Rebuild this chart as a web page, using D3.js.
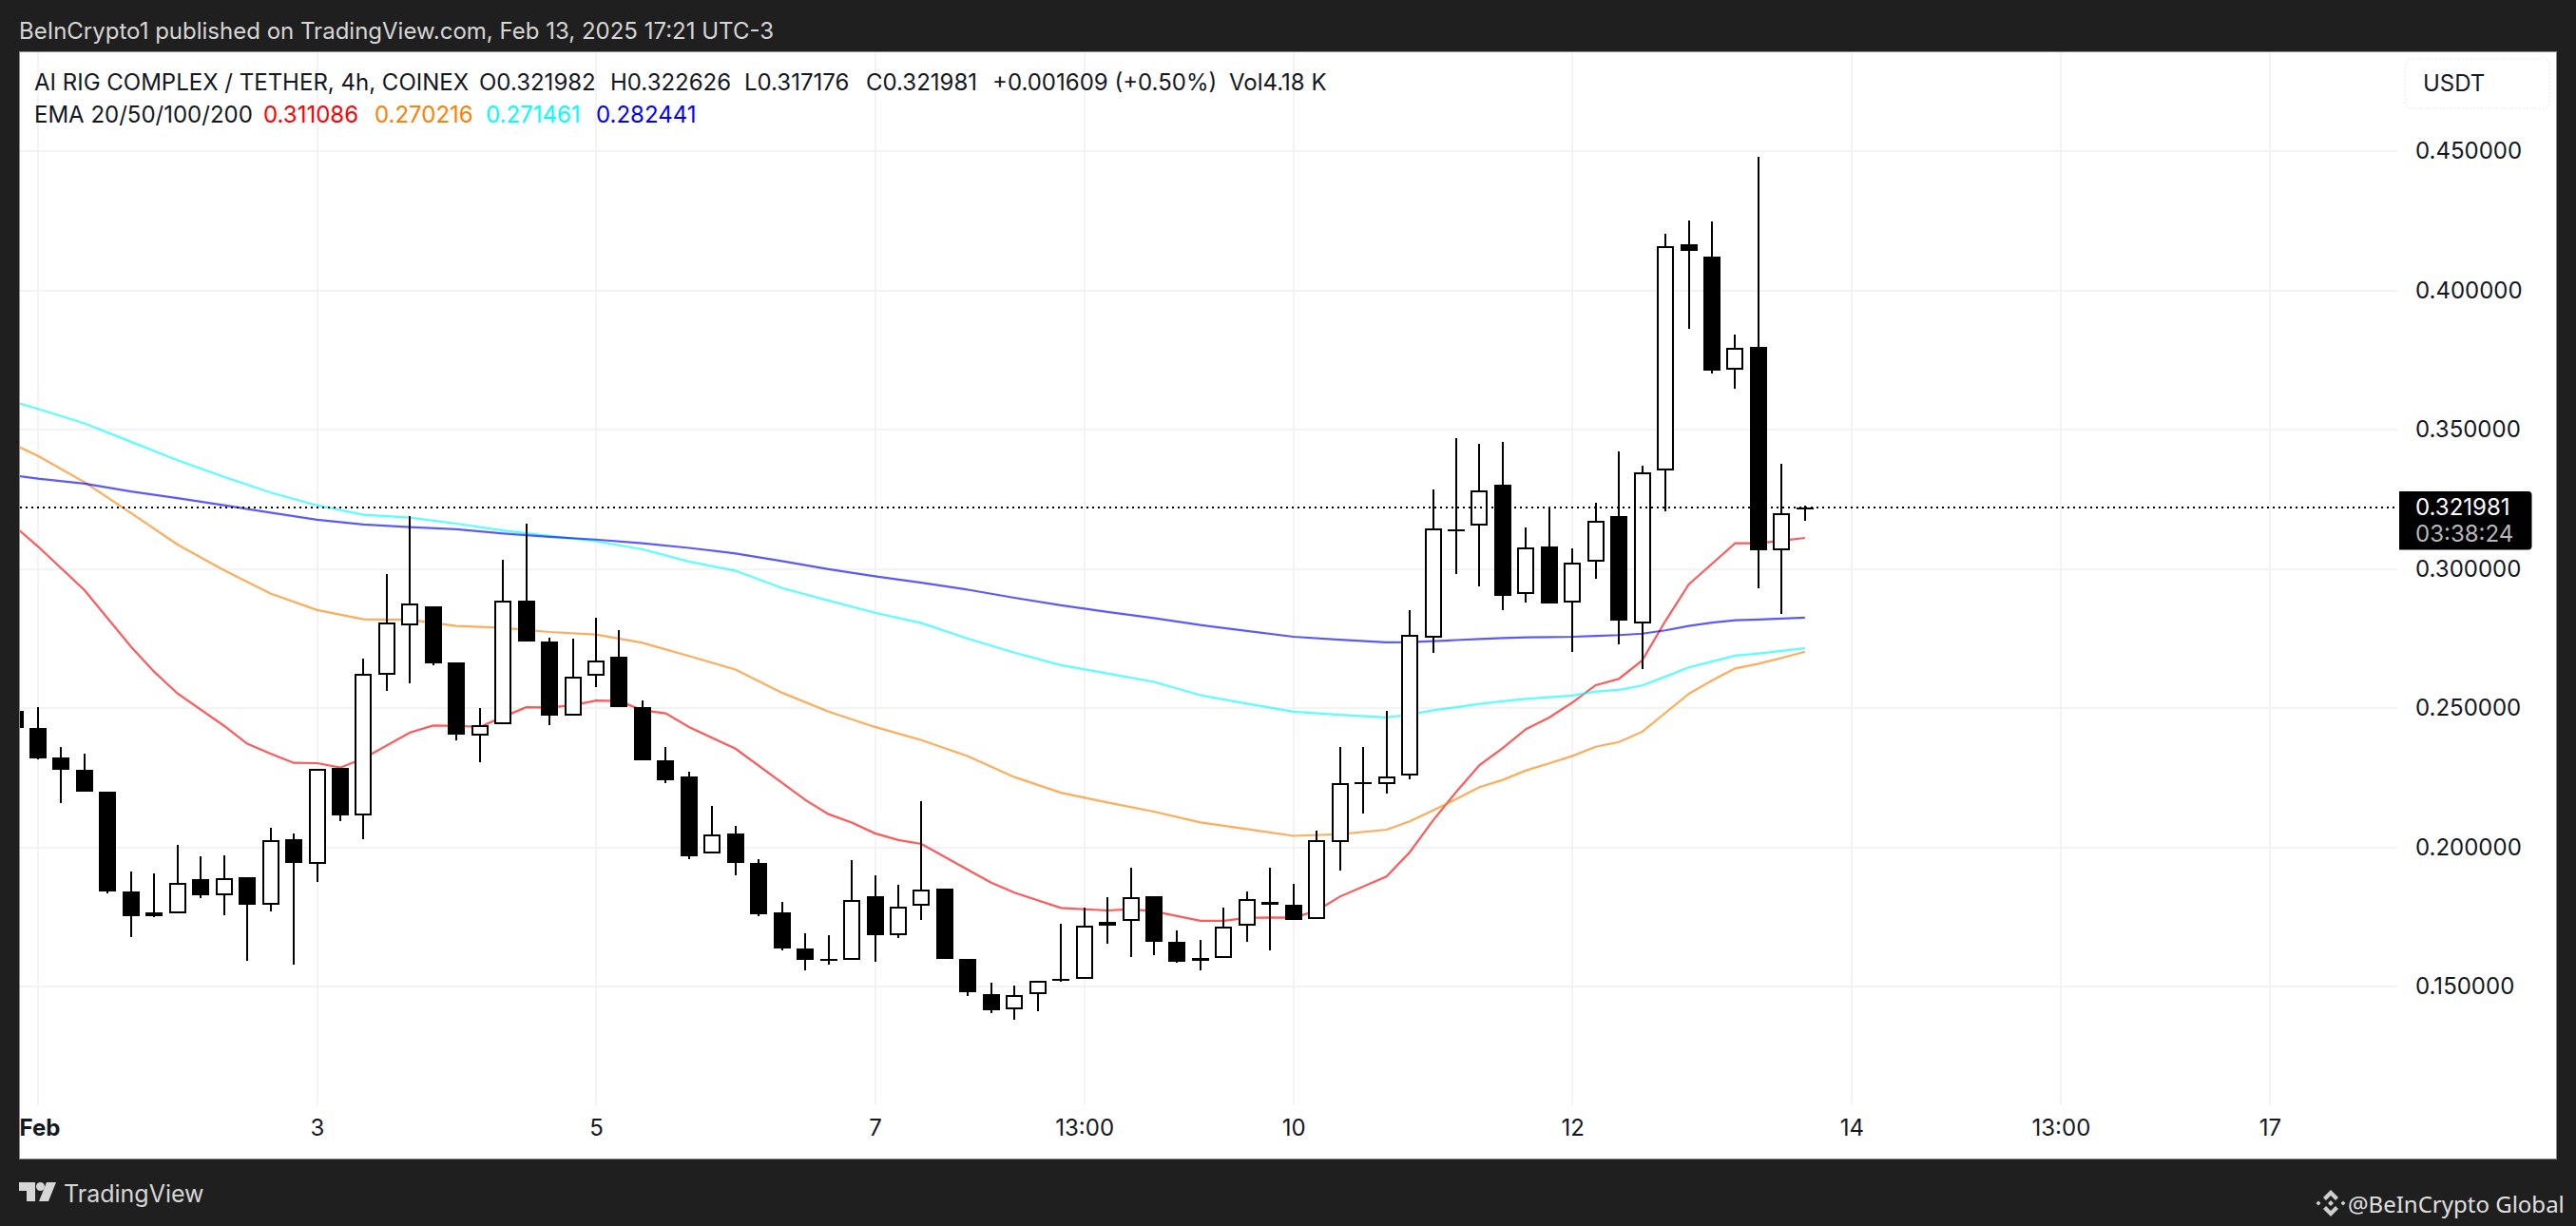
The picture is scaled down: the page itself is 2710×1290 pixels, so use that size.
<!DOCTYPE html>
<html>
  <head>
  <meta charset="UTF-8">
  <title>AI RIG COMPLEX / TETHER</title>
  <script src="https://cdn.jsdelivr.net/npm/d3@7"></script>
  <style>
    html, body { margin: 0; padding: 0; background: #1f1f1f; }
    svg { display: block; }
    text { font-family: Inter, Roboto, sans-serif; }
    .axis text { font-size: 24px; fill: #131722; font-family: Inter, Roboto, sans-serif; }
    .axis path, .axis line { display: none; }
  </style>
  </head>
  <body>
    <script>

      // Price ticks and time ticks (bar number counted from "Feb")

      const priceTicks = [0.45, 0.40, 0.35, 0.30, 0.25, 0.20, 0.15];
      const timeTickBars = [0, 12, 24, 36, 45, 54, 66, 78, 87, 96];
      const timeTickLabels = ["Feb", "3", "5", "7", "13:00", "10", "12", "14", "13:00", "17"];

      // Candles, first one is bar -1 (cut by the left edge)

      const opens = [.2490,.2428,.2321,.2277,.2200,.1843,.1766,.1763,.1884,.1827,.1891,.1794,.2028,.1939,.2285,.2114,.2618,.2796,.2866,.2664,
        .2400,.2442,.2885,.2739,.2472,.2616,.2684,.2503,.2311,.2255,.1977,.2049,.1945,.1765,.1636,.1600,.1596,.1823,.1686,.1791,
        .1850,.1600,.1471,.1417,.1473,.1529,.1526,.1720,.1736,.1823,.1662,.1591,.1604,.1718,.1805,.1795,.1741,.2018,.2234,.2227,
        .2258,.2752,.3142,.3154,.3301,.2910,.3079,.2878,.3026,.3188,.2804,.3353,.4165,.4120,.3714,.3796,.3067,.321982];
      const highs = [.2490,.2502,.2360,.2336,.2200,.1912,.1906,.2009,.1968,.1971,.1891,.2069,.2048,.2283,.2285,.2678,.2981,.3188,.2866,.2664,
        .2500,.3032,.3163,.2753,.2750,.2824,.2780,.2526,.2360,.2273,.2150,.2076,.1956,.1805,.1690,.1686,.1954,.1899,.1864,.2167,
        .1850,.1600,.1512,.1502,.1521,.1724,.1782,.1820,.1928,.1823,.1700,.1666,.1782,.1843,.1928,.1867,.2060,.2360,.2360,.2489,
        .2851,.3285,.3469,.3448,.3456,.3147,.3223,.3072,.3236,.3422,.3370,.4202,.4251,.4246,.3840,.4480,.3376,.322626];
      const lows = [.2428,.2314,.2159,.2198,.1833,.1676,.1749,.1763,.1818,.1757,.1593,.1768,.1580,.1877,.2095,.2030,.2563,.2590,.2654,.2385,
        .2307,.2442,.2740,.2440,.2472,.2576,.2502,.2312,.2229,.1958,.1977,.1901,.1753,.1628,.1558,.1577,.1596,.1590,.1675,.1740,
        .1600,.1467,.1406,.1382,.1411,.1518,.1526,.1655,.1607,.1611,.1586,.1558,.1604,.1662,.1628,.1740,.1741,.1917,.2122,.2194,
        .2244,.2699,.2982,.2938,.2853,.2880,.2877,.2702,.2964,.2730,.2641,.3208,.3863,.3702,.3648,.2931,.2839,.317176];
      const closes = [.2428,.2319,.2279,.2198,.1842,.1754,.1754,.1873,.1826,.1890,.1792,.2027,.1945,.2283,.2113,.2624,.2808,.2877,.2661,.2406,
        .2440,.2884,.2740,.2471,.2613,.2672,.2502,.2312,.2239,.1969,.2047,.1945,.1761,.1638,.1594,.1596,.1811,.1685,.1787,.1849,
        .1600,.1478,.1416,.1470,.1521,.1525,.1719,.1732,.1821,.1662,.1590,.1603,.1715,.1815,.1795,.1740,.2027,.2231,.2229,.2255,
        .2764,.3146,.3138,.3283,.2904,.3078,.2877,.3023,.3171,.2815,.3347,.4160,.4143,.3713,.3795,.3068,.3201,.321981];

      // EMA lines, read at these bars

      const emaBars = [-1,0,2,4,6,8,10,12,14,16,18,20,22,24,26,28,30,32,34,36,38,40,42,44,46,48,50,52,54,56,58,
        59,60,61,62,63,64,65,66,67,68,69,70,71,72,73,74,75,76];
      const ema50 = [.3445,.3405,.3311,.3200,.3087,.2995,.2911,.2852,.2819,.2817,.2795,.2788,.2773,.2764,.2734,.2687,.2638,.2555,.2487,.2432,.2385,.2327,.2252,.2196,.2161,.2128,.2089,.2065,.2041,.2047,.2063,
        .2093,.2132,.2173,.2216,.2242,.2276,.2301,.2328,.2361,.2378,.2415,.2483,.2551,.2599,.2642,.2659,.2680,.270216];
      const ema100 = [.3599,.3574,.3522,.3456,.3390,.3330,.3274,.3228,.3194,.3184,.3162,.3138,.3118,.3099,.3070,.3026,.2993,.2931,.2886,.2842,.2805,.2749,.2699,.2654,.2624,.2594,.2546,.2516,.2487,.2476,.2466,
        .2476,.2492,.2503,.2515,.2524,.2533,.2539,.2545,.2559,.2565,.2581,.2613,.2646,.2667,.2688,.2696,.2705,.271461];
      const ema200 = [.3335,.3324,.3306,.3278,.3254,.3228,.3202,.3176,.3159,.3150,.3142,.3127,.3115,.3105,.3092,.3075,.3055,.3028,.2999,.2973,.2950,.2925,.2896,.2869,.2845,.2823,.2798,.2777,.2756,.2745,.2736,
        .2737,.2740,.2744,.2748,.2751,.2754,.2755,.2756,.2759,.2762,.2767,.2779,.2795,.2807,.2815,.2818,.2821,.282441];

      const ema20Bars = [-1,0,2,4,5,6,8,9,10,11,12,13,14,16,17,18,19,20,21,22,23,24,25,26,27,28,30,32,33,34,35,36,37,38,40,41,42,44,46,47,48,50,51,52,53,54,55,56,58,
        59,60,61,62,63,64,65,66,67,68,69,70,71,72,73,74,75,76];
      const ema20 = [.3152,.3080,.2923,.2720,.2630,.2552,.2436,.2372,.2336,.2303,.2302,.2286,.2319,.2412,.2437,.2436,.2432,.2468,.2503,.2502,.2510,.2527,.2525,.2492,.2481,.2432,.2354,.2232,.2170,.2119,.2089,.2050,.2026,.2012,.1919,.1873,.1837,.1782,.1773,.1778,.1770,.1736,.1736,.1746,.1748,.1747,.1772,.1823,.1895,
        .1982,.2096,.2199,.2295,.2356,.2424,.2466,.2520,.2582,.2605,.2671,.2813,.2944,.3018,.3092,.3092,.3101,.311086];

      const lastPrice = 0.321981;
      const countdown = "03:38:24";
      const emaValues = ["0.311086", "0.270216", "0.271461", "0.282441"];
      const emaColors = ["#ff0000", "#ff7f00", "#00ffff", "#0000ff"];

      const width = 2710, height = 1290;
      const panel = {left: 20, right: 2689, top: 54, bottom: 1219};
      const plot = {left: 21, right: 2522, top: 55, bottom: 1163};

      const x = d3.scaleLinear().domain([0, 96]).range([40, 2388]);
      const y = d3.scaleLinear().domain([0.45, 0.15]).range([159, 1038]);

      const svg = d3.select("body").append("svg")
        .attr("width", width)
        .attr("height", height);

      // Top strip

      svg.append("text")
        .attr("x", 20).attr("y", 41)
        .attr("fill", "#d6d6d6")
        .style("font-size", "24px")
        .text("BeInCrypto1 published on TradingView.com, Feb 13, 2025 17:21 UTC-3");

      // White panel

      svg.append("rect")
        .attr("x", panel.left + 0.5).attr("y", panel.top + 0.5)
        .attr("width", panel.right - panel.left)
        .attr("height", panel.bottom - panel.top)
        .attr("fill", "#fff")
        .attr("stroke", "#8a8a8a");

      svg.append("clipPath").attr("id", "plotclip").append("rect")
        .attr("x", plot.left).attr("y", plot.top)
        .attr("width", plot.right - plot.left)
        .attr("height", plot.bottom - plot.top);

      // Grid

      const grid = svg.append("g")
        .attr("stroke", "#f3f3f3")
        .attr("stroke-width", 2)
        .style("shape-rendering", "crispEdges");

      grid.selectAll(".h").data(priceTicks).enter().append("line")
        .attr("x1", plot.left).attr("x2", plot.right)
        .attr("y1", d => y(d)).attr("y2", d => y(d));

      grid.selectAll(".v").data(timeTickBars).enter().append("line")
        .attr("y1", plot.top).attr("y2", plot.bottom)
        .attr("x1", d => x(d)).attr("x2", d => x(d));

      const chart = svg.append("g").attr("clip-path", "url(#plotclip)");

      // EMA lines go under the candles

      const emaLine = bars => d3.line()
        .x((d, i) => x(bars[i]))
        .y(d => y(d));

      [[ema20, ema20Bars, "#ff0000"], [ema50, emaBars, "#ff7f00"], [ema100, emaBars, "#00ffff"], [ema200, emaBars, "#0000ff"]].forEach(s => {
        chart.append("path")
          .attr("d", emaLine(s[1])(s[0]))
          .attr("fill", "none")
          .attr("stroke", s[2])
          .attr("stroke-opacity", 0.65)
          .attr("stroke-width", 2.2);
      });

      // Candles

      const candles = opens.map((o, i) => ({bar: i - 1, o: o, h: highs[i], l: lows[i], c: closes[i]}));

      const candle = chart.selectAll(".candle").data(candles).enter().append("g")
        .attr("class", "candle")
        .style("shape-rendering", "crispEdges");

      candle.append("line")
        .attr("x1", d => Math.round(x(d.bar))).attr("x2", d => Math.round(x(d.bar)))
        .attr("y1", d => y(d.h)).attr("y2", d => y(d.l))
        .attr("stroke", "#000")
        .attr("stroke-width", 2);

      candle.each(function(d) {
        let top = y(Math.max(d.o, d.c)), bottom = y(Math.min(d.o, d.c));
        let cx = Math.round(x(d.bar));
        let g = d3.select(this);
        if (d.c < d.o || bottom - top < 3) {
          g.append("rect")
            .attr("x", cx - 9).attr("width", 18)
            .attr("y", top).attr("height", Math.max(bottom - top, 2))
            .attr("fill", "#000");
        } else {
          g.append("rect")
            .attr("x", cx - 8).attr("width", 16)
            .attr("y", top + 1).attr("height", bottom - top - 2)
            .attr("fill", "#fff")
            .attr("stroke", "#000")
            .attr("stroke-width", 2);
        }
      });

      // Last price line

      svg.append("line")
        .attr("x1", plot.left).attr("x2", plot.right)
        .attr("y1", y(lastPrice)).attr("y2", y(lastPrice))
        .attr("stroke", "#000")
        .attr("stroke-width", 2)
        .attr("stroke-dasharray", "2 4");

      // Axes

      const yAxis = d3.axisRight(y)
        .tickValues(priceTicks)
        .tickFormat(d3.format(".6f"))
        .tickSize(0)
        .tickPadding(0);

      svg.append("g")
        .attr("class", "axis")
        .attr("transform", "translate(2541,0)")
        .call(yAxis);

      const xAxis = d3.axisBottom(x)
        .tickValues(timeTickBars)
        .tickFormat((d, i) => timeTickLabels[i])
        .tickSize(0)
        .tickPadding(0);

      const xg = svg.append("g")
        .attr("class", "axis")
        .attr("transform", "translate(0,1178)")
        .call(xAxis);

      // "Feb" is bold and starts at the panel edge, x is inside the tick group
      xg.selectAll("text")
        .filter((d, i) => i == 0)
        .attr("text-anchor", "start")
        .attr("x", -20)
        .style("font-weight", 700);

      // Last price label

      svg.append("path")
        .attr("d", "M2524 517H2659.5a4 4 0 0 1 4 4V574.5a4 4 0 0 1 -4 4H2524Z")
        .attr("fill", "#000");
      svg.append("text")
        .attr("x", 2541).attr("y", 542)
        .attr("fill", "#fff")
        .style("font-size", "24px")
        .text(d3.format(".6f")(lastPrice));
      svg.append("text")
        .attr("x", 2541).attr("y", 570)
        .attr("fill", "#b8b8b8")
        .style("font-size", "24px")
        .text(countdown);

      // USDT button

      svg.append("rect")
        .attr("x", 2530.5).attr("y", 61.5)
        .attr("width", 152).attr("height", 53)
        .attr("rx", 8)
        .attr("fill", "none")
        .attr("stroke", "#f0f0f0")
        .attr("stroke-width", 1.5)
        .attr("stroke-dasharray", "2 2");
      svg.append("text")
        .attr("x", 2549).attr("y", 96)
        .attr("fill", "#131722")
        .style("font-size", "24px")
        .text("USDT");

      // Legend rows

      const legendText = [
        ["AI RIG COMPLEX / TETHER, 4h, COINEX", 36],
        ["O0.321982", 504],
        ["H0.322626", 642],
        ["L0.317176", 783],
        ["C0.321981", 911],
        ["+0.001609 (+0.50%)", 1044],
        ["Vol4.18 K", 1293]
      ];
      legendText.forEach(t => {
        svg.append("text")
          .attr("x", t[1]).attr("y", 95)
          .attr("fill", "#131722")
          .style("font-size", "24px")
          .text(t[0]);
      });

      svg.append("text")
        .attr("x", 36).attr("y", 129)
        .attr("fill", "#131722")
        .style("font-size", "24px")
        .text("EMA 20/50/100/200");

      const emaLegendX = [277, 394, 511, 627];
      emaValues.forEach((v, i) => {
        svg.append("text")
          .attr("x", emaLegendX[i]).attr("y", 129)
          .attr("fill", emaColors[i])
          .style("font-size", "24px")
          .text(v);
      });

      // Footer

      const logo = svg.append("g").attr("fill", "#d6d6d6");
      logo.append("path").attr("d", "M20 1244H37V1264H28V1253H20Z");
      logo.append("circle").attr("cx", 42.5).attr("cy", 1248.5).attr("r", 4.5);
      logo.append("path").attr("d", "M49 1244H59L51 1264H41Z");

      svg.append("text")
        .attr("x", 67).attr("y", 1265)
        .attr("fill", "#d6d6d6")
        .style("font-size", "25px")
        .text("TradingView");

      const mark = svg.append("g").attr("fill", "#cfcfcf").attr("transform", "translate(2452,1266)");
      mark.append("path").attr("d", "M0 -14L8 -6L5 -3L0 -8L-5 -3L-8 -6Z");
      mark.append("path").attr("d", "M0 14L8 6L5 3L0 8L-5 3L-8 6Z");
      mark.append("path").attr("d", "M0 -3L3 0L0 3L-3 0Z");
      mark.append("path").attr("d", "M-13 -2.500L-10.500 0L-13 2.500L-15.500 0Z");
      mark.append("path").attr("d", "M13 -2.500L15.500 0L13 2.500L10.500 0Z");

      svg.append("text")
        .attr("x", 2470).attr("y", 1276)
        .attr("fill", "#e0e0e0")
        .style("font-family", "'Noto Sans', 'Open Sans', sans-serif")
        .style("font-size", "24px")
        .text("@BeInCrypto Global");

    </script>
  </body>
</html>
